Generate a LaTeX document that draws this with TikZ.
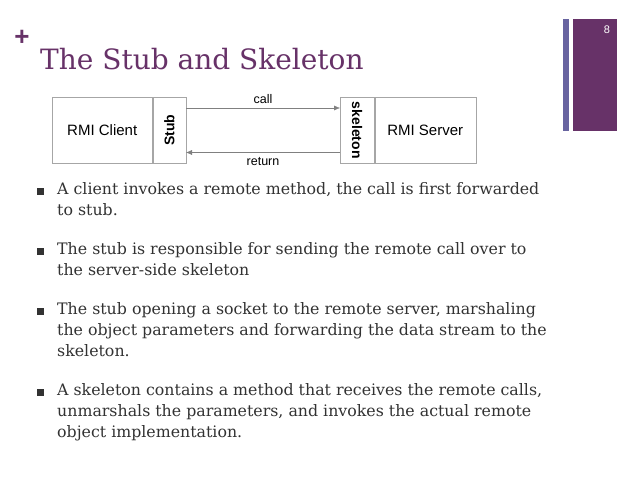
\documentclass[tikz,border=0pt]{standalone}
\usepackage{fontspec}
\setmainfont{DejaVu Serif}
\newfontfamily\diagfont{Liberation Sans}
\usetikzlibrary{positioning,arrows.meta}
\definecolor{plum}{RGB}{103,50,104}
\definecolor{slate}{RGB}{104,100,160}
\definecolor{bodytext}{RGB}{50,50,50}
\tikzset{
  box/.style={draw=black!35,line width=0.5pt,minimum height=66pt,inner sep=0pt,font=\diagfont\fontsize{15}{17}\selectfont},
  bullet/.style={anchor=north west,align=left,inner sep=0pt,text=bodytext,font=\fontsize{15.8}{21}\selectfont},
  sqr/.style={fill=bodytext,minimum size=7pt,inner sep=0pt}
}
\begin{document}
\begin{tikzpicture}[x=1pt,y=-1pt]
\useasboundingbox (0,0) rectangle (638,478);
%side bars
\fill[slate] (563,19) rectangle (569,131);
\fill[plum] (573,19) rectangle (617,131);
\node[text=white,font=\diagfont\fontsize{11}{12}\selectfont] (pg) at (607,30) {8};
%title
\node[text=plum,font=\diagfont\bfseries\fontsize{26}{26}\selectfont] (plus) at (22,38) {+};
\node[anchor=base west,text=plum,font=\fontsize{28}{30}\selectfont,inner sep=0pt] (title) at (40,70) {The Stub and Skeleton};
%diagram
\node[box,minimum width=100pt,anchor=north west] (client) at (52,97) {RMI Client};
\node[box,minimum width=33pt,right=0pt of client,font=\diagfont\bfseries\fontsize{14}{16}\selectfont] (stub) {\rotatebox{90}{Stub}};
\node[box,minimum width=34pt,anchor=north west,font=\diagfont\bfseries\fontsize{14}{16}\selectfont] (skel) at (340,97) {\rotatebox{-90}{skeleton}};
\node[box,minimum width=101pt,right=0pt of skel] (server) {RMI Server};
\coordinate (c1) at ([yshift=-11pt]stub.north east);
\coordinate (c2) at ([yshift=-11pt]skel.north west);
\coordinate (r1) at ([yshift=11pt]skel.south west);
\coordinate (r2) at ([yshift=11pt]stub.south east);
\draw[-{Latex[length=6pt,width=5pt]},black!50] (c1) -- node[above=1pt,text=black,font=\diagfont\fontsize{12.5}{14}\selectfont] (call) {call} (c2);
\draw[-{Latex[length=6pt,width=5pt]},black!50] (r1) -- node[below=1pt,text=black,font=\diagfont\fontsize{12.5}{14}\selectfont] (ret) {return} (r2);
%bullets
\foreach \y/\t [count=\i] in {
  182/{A client invokes a remote method, the call is first forwarded\\to stub.},
  242/{The stub is responsible for sending the remote call over to\\the server-side skeleton},
  302/{The stub opening a socket to the remote server, marshaling\\the object parameters and forwarding the data stream to the\\skeleton.},
  383/{A skeleton contains a method that receives the remote calls,\\unmarshals the parameters, and invokes the actual remote\\object implementation.}}{
  \node[sqr] (sq\i) at (40,\y+10) {};
  \node[bullet] (b\i) at (57,\y) {\t};
}
\end{tikzpicture}
\end{document}
